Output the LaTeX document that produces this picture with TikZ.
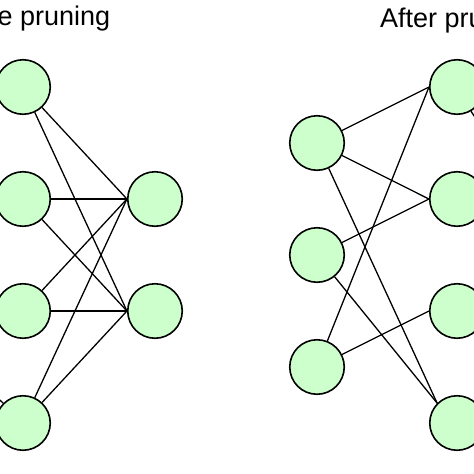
\documentclass[tikz,border=0pt]{standalone}
\usepackage{fontspec}
\setmainfont{Liberation Sans}
\definecolor{nodefill}{RGB}{204,255,204}
\begin{document}
\begin{tikzpicture}[x=1pt,y=-1pt,
  neuron/.style={circle, draw=black, line width=1.6pt, fill=nodefill, minimum size=54.5pt, inner sep=0pt},
  edge/.style={draw=black, line width=1.3pt},
  title/.style={font=\fontsize{27}{30}\selectfont, anchor=base west, inner sep=0pt}]
\useasboundingbox (0,0) rectangle (474,474);
\clip (0,0) rectangle (474,474);
% titles
\node[title] (t1) at (-2.5,25.5) {e pruning};
\node[title] (t2) at (380,27) {After pru};
% before pruning
\node[neuron] (b1) at (23,87) {};
\node[neuron] (b2) at (23,199) {};
\node[neuron] (b3) at (23,311) {};
\node[neuron] (b4) at (23,423) {};
\node[neuron] (o1) at (155,199) {};
\node[neuron] (o2) at (155,311) {};
\foreach \i in {b1,b2,b3,b4}{
  \draw[edge] (\i) -- (o1.west);
  \draw[edge] (\i) -- (o2.west);
}
% after pruning
\node[neuron] (a1) at (317,143) {};
\node[neuron] (a2) at (317,255) {};
\node[neuron] (a3) at (317,367) {};
\node[neuron] (h1) at (457,87) {};
\node[neuron] (h2) at (457,199) {};
\node[neuron] (h3) at (457,311) {};
\node[neuron] (h4) at (457,423) {};
\draw[edge] (a1) -- (h1.west);
\draw[edge] (a1) -- (h2.west);
\draw[edge] (a1) -- (h4.135);
\draw[edge] (a2) -- (h2.west);
\draw[edge] (a2) -- (h4.135);
\draw[edge] (a3) -- (h1.west);
\draw[edge] (a3) -- (h3.west);
% stubs of connectors leaving the frame
\coordinate (s1) at (-15,104);
\coordinate (s2) at (-15,386);
\coordinate (s3) at (490,140);
\draw[edge] (s1) -- (b1.205);
\draw[edge] (s2) -- (b4.135);
\draw[edge] (h1.-60) -- (s3);
\end{tikzpicture}
\end{document}
